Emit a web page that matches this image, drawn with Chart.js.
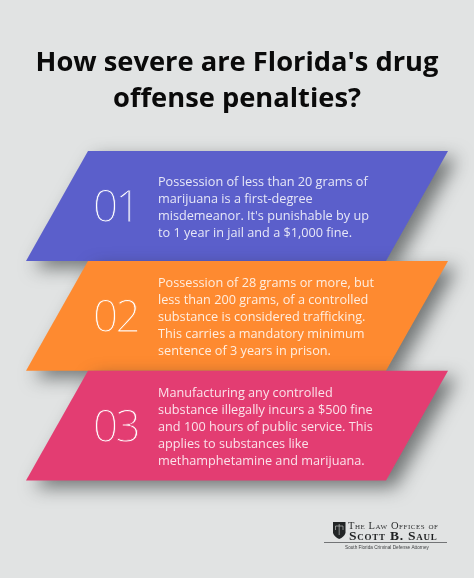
<!DOCTYPE html>
<html>
<head>
<meta charset="utf-8">
<title>Florida drug offense penalties</title>
<script src="https://cdn.jsdelivr.net/npm/chart.js@4"></script>
<style>
  html, body { margin: 0; padding: 0; background: #e1e3e3; }
  #wrap { position: relative; width: 474px; height: 578px; overflow: hidden; }
</style>
</head>
<body>
<div id="wrap"><canvas id="chart"></canvas></div>
<script>
// Infographic data
const titleLines = ["How severe are Florida's drug", "offense penalties?"];
const categories = ['01', '02', '03'];
const bandValues = [100, 100, 100];
const bandColors = ['#5b5fcb', '#fe8a30', '#e33d72'];
const bandTexts = [
    ['Possession of less than 20 grams of', 'marijuana is a first-degree', "misdemeanor. It's punishable by up", 'to 1 year in jail and a $1,000 fine.'],
    ['Possession of 28 grams or more, but', 'less than 200 grams, of a controlled', 'substance is considered trafficking.', 'This carries a mandatory minimum', 'sentence of 3 years in prison.'],
    ['Manufacturing any controlled', 'substance illegally incurs a $500 fine', 'and 100 hours of public service. This', 'applies to substances like', 'methamphetamine and marijuana.']
];

const SKEW = 31;         // half of the horizontal slant of each band, px
const LINE_HEIGHT = 17;

// Draws the bars as parallelograms with a soft shadow, plus the number and text
const skewBands = {
    id: 'skewBands',
    beforeDatasetDraw(chart, args) {
        const ctx = chart.ctx;
        args.meta.data.forEach((bar, i) => {
            const top = bar.y - bar.height / 2;
            const bottom = bar.y + bar.height / 2;
            const left = bar.base;
            const right = bar.x;

            ctx.save();
            ctx.shadowColor = 'rgba(40,45,45,0.6)';
            ctx.shadowBlur = 18;
            ctx.shadowOffsetX = 9;
            ctx.shadowOffsetY = 7;
            ctx.fillStyle = bar.options.backgroundColor;
            ctx.beginPath();
            ctx.moveTo(left + SKEW, top);
            ctx.lineTo(right + SKEW, top);
            ctx.lineTo(right - SKEW, bottom);
            ctx.lineTo(left - SKEW, bottom);
            ctx.closePath();
            ctx.fill();
            ctx.restore();

            ctx.save();
            ctx.fillStyle = '#ffffff';
            ctx.textBaseline = 'alphabetic';
            ctx.font = '300 44px "Open Sans"';
            ctx.letterSpacing = '-2.5px';
            ctx.fillText(categories[i], left + 36, bar.y + 16);
            // the installed face is heavier than the reference: thin it with the band colour
            ctx.strokeStyle = bar.options.backgroundColor;
            ctx.lineWidth = 0.8;
            ctx.strokeText(categories[i], left + 36, bar.y + 16);
            ctx.letterSpacing = '0px';

            const lines = bandTexts[i];
            ctx.globalAlpha = 0.85;
            ctx.font = '12.7px "Open Sans"';
            const first = bar.y - lines.length * LINE_HEIGHT / 2 + 14;
            lines.forEach((line, k) => ctx.fillText(line, left + 101, first + k * LINE_HEIGHT));
            ctx.restore();
        });
        return false;
    }
};

// Logo block in the lower right corner
const logo = {
    id: 'logo',
    afterDraw(chart) {
        const ctx = chart.ctx;
        ctx.save();
        ctx.fillStyle = '#222526';
        ctx.beginPath();
        ctx.moveTo(333, 522);
        ctx.lineTo(345.5, 522);
        ctx.lineTo(345.5, 533);
        ctx.quadraticCurveTo(344, 537, 339.2, 539);
        ctx.quadraticCurveTo(334.5, 537, 333, 533);
        ctx.closePath();
        ctx.fill();
        ctx.strokeStyle = '#b8baba';
        ctx.lineWidth = 0.7;
        ctx.beginPath();
        ctx.moveTo(339.2, 524);
        ctx.lineTo(339.2, 535);
        ctx.moveTo(335.5, 526);
        ctx.lineTo(343, 526);
        ctx.moveTo(335.5, 526);
        ctx.lineTo(335.5, 530);
        ctx.moveTo(343, 526);
        ctx.lineTo(343, 530);
        ctx.stroke();

        ctx.fillStyle = '#2c2e2f';
        ctx.font = 'small-caps 10.5px "Liberation Serif"';
        ctx.letterSpacing = '0.55px';
        ctx.fillText('The Law Offices of', 348, 529);
        ctx.fillStyle = '#1d1f20';
        ctx.font = 'small-caps bold 13.5px "Liberation Serif"';
        ctx.letterSpacing = '0.75px';
        ctx.fillText('Scott B. Saul', 349, 540);
        ctx.letterSpacing = '0px';

        ctx.strokeStyle = '#55585a';
        ctx.lineWidth = 0.8;
        ctx.beginPath();
        ctx.moveTo(324, 542.5);
        ctx.lineTo(447, 542.5);
        ctx.stroke();

        ctx.fillStyle = '#3c3e40';
        ctx.font = '4.7px "Liberation Sans"';
        ctx.fillText('South Florida Criminal Defense Attorney', 345, 549);
        ctx.restore();
    }
};

new Chart(document.getElementById('chart'), {
    type: 'bar',
    data: {
        labels: categories,
        datasets: [{
            data: bandValues,
            backgroundColor: bandColors,
            barPercentage: 1,
            categoryPercentage: 1
        }]
    },
    options: {
        indexAxis: 'y',
        responsive: true,
        maintainAspectRatio: false,
        animation: false,
        layout: { padding: { bottom: 97.5 } },
        plugins: {
            legend: { display: false },
            tooltip: { enabled: false },
            title: {
                display: true,
                text: titleLines,
                color: '#0a0a0a',
                font: { family: '"Open Sans"', size: 27.3, weight: '700', lineHeight: 1.32 },
                padding: { top: 45, bottom: 34 }
            }
        },
        scales: {
            // wider than the bars so they sit 57px in from each side
            x: { display: false, min: -15.83, max: 115.83 },
            y: { display: false }
        }
    },
    plugins: [skewBands, logo]
});
</script>
</body>
</html>
